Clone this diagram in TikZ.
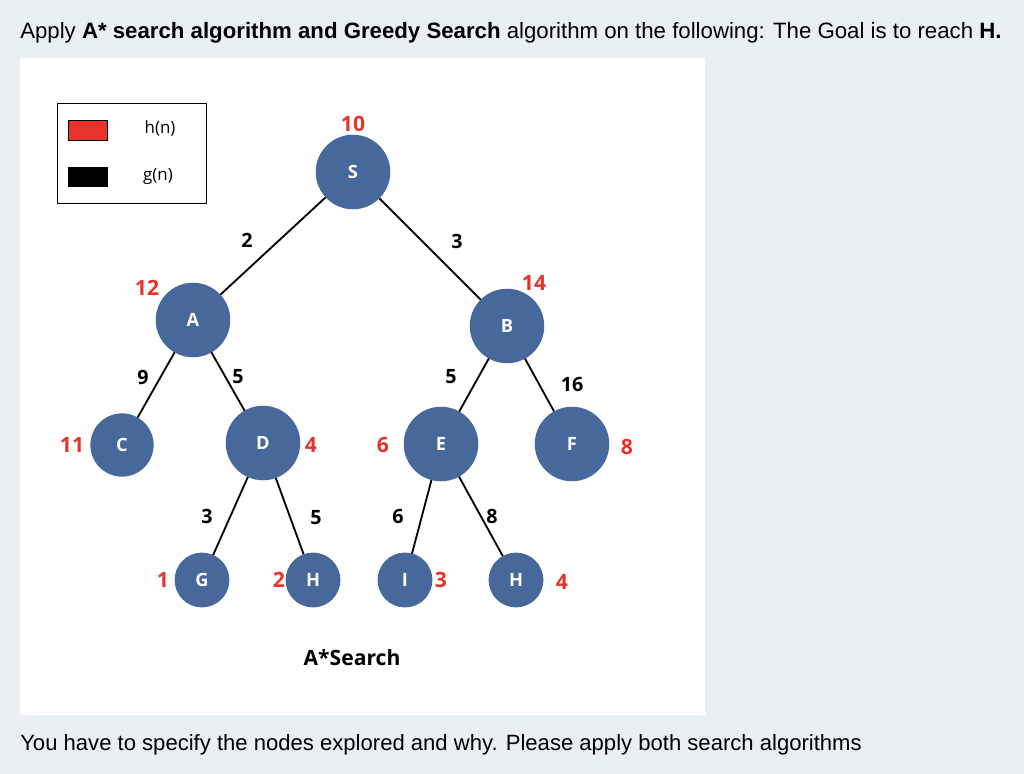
\documentclass[tikz,border=0pt]{standalone}
\usepackage{fontspec}
\setmainfont{Liberation Sans}
\newfontfamily\figsans{Open Sans}
\usetikzlibrary{positioning}
\definecolor{pagebg}{HTML}{E8F0F3}
\definecolor{nodeblue}{HTML}{46689B}
\definecolor{hred}{HTML}{E8332A}
\tikzset{
  treenode/.style={circle, fill=nodeblue, text=white, inner sep=0pt, font=\figsans\fontsize{13}{13}\selectfont\bfseries},
  bignode/.style={treenode, minimum size=53pt},
  smallnode/.style={treenode, minimum size=39pt},
  hval/.style={text=hred, font=\figsans\fontsize{15}{15}\selectfont\bfseries},
  gval/.style={text=black, font=\figsans\fontsize{14}{14}\selectfont\bfseries},
  treeedge/.style={draw, line width=1.3pt},
}
\begin{document}
\begin{tikzpicture}[x=0.025cm, y=-0.025cm]
  \fill[pagebg] (0,0) rectangle (1024,774);
  \useasboundingbox (0,0) rectangle (1024,774);
  \fill[white] (20,58) rectangle (705,715);

  % question text
  \node[anchor=west, font=\fontsize{15.8}{17}\selectfont, inner sep=0pt] (q) at (20,33)
    {Apply \textbf{A* search algorithm and Greedy Search} algorithm on the following: The Goal is to reach \textbf{H.}};
  \node[anchor=west, font=\fontsize{15.7}{17}\selectfont, inner sep=0pt] (note) at (20,745)
    {You have to specify the nodes explored and why. Please apply both search algorithms};

  % legend
  \node[draw, line width=0.8pt, minimum width=106pt, minimum height=71pt, anchor=north west] (legend) at (57,103) {};
  \node[fill=hred, draw=black, minimum width=28pt, minimum height=14pt, inner sep=0pt] (hbox) at (88,130) {};
  \node[fill=black, minimum width=28pt, minimum height=14pt, inner sep=0pt] (gbox) at (88,177) {};
  \node[font=\figsans\fontsize{12}{12}\selectfont] (hlab) at (160,128) {h(n)};
  \node[font=\figsans\fontsize{12}{12}\selectfont] (glab) at (158,177) {g(n)};

  % edges (behind the nodes)
  \coordinate (cS) at (353,172);
  \coordinate (cA) at (193,320);
  \coordinate (cB) at (507,326);
  \coordinate (cD) at (263,443);
  \coordinate (cE) at (441,444);
  \draw[treeedge] (cS) -- (cA);
  \draw[treeedge] (cS) -- (cB);
  \draw[treeedge] (cA) -- (122,445);
  \draw[treeedge] (cA) -- (cD);
  \draw[treeedge] (cB) -- (cE);
  \draw[treeedge] (cB) -- (572,444);
  \draw[treeedge] (cD) -- (202,580);
  \draw[treeedge] (cD) -- (313,580);
  \draw[treeedge] (cE) -- (405,580);
  \draw[treeedge] (cE) -- (516,580);

  % tree nodes
  \node[bignode] (S) at (cS) {S};
  \node[bignode] (A) at (cA) {A};
  \node[bignode] (B) at (cB) {B};
  \node[smallnode, minimum size=45pt] (C) at (122,445) {C};
  \node[bignode] (D) at (cD) {D};
  \node[bignode] (E) at (cE) {E};
  \node[bignode] (F) at (572,444) {F};
  \node[smallnode] (G) at (202,580) {G};
  \node[smallnode] (H1) at (313,580) {H};
  \node[smallnode] (I) at (405,580) {I};
  \node[smallnode] (H2) at (516,580) {H};

  % edge costs
  \node[gval] (gSA) at (247,240) {2};
  \node[gval] (gSB) at (457,241) {3};
  \node[gval] (gAC) at (143,377) {9};
  \node[gval] (gAD) at (238,377) {5};
  \node[gval] (gBE) at (451,377) {5};
  \node[gval] (gBF) at (572,384) {16};
  \node[gval] (gDG) at (207,516) {3};
  \node[gval] (gDH) at (316,518) {5};
  \node[gval] (gEI) at (398,516) {6};
  \node[gval] (gEH) at (492,516) {8};

  % heuristics
  \node[hval] (hS) at (353,124) {10};
  \node[hval] (hA) at (147,288) {12};
  \node[hval] (hB) at (534,283) {14};
  \node[hval] (hC) at (72,445) {11};
  \node[hval] (hD) at (311,445) {4};
  \node[hval] (hE) at (383,445) {6};
  \node[hval] (hF) at (627,447) {8};
  \node[hval] (hG) at (163,580) {1};
  \node[hval] (hH1) at (279,580) {2};
  \node[hval] (hI) at (441,580) {3};
  \node[hval] (hH2) at (562,582) {4};

  \node[font=\figsans\fontsize{15}{15}\selectfont\bfseries] (title) at (352,658) {A*Search};
\end{tikzpicture}
\end{document}
